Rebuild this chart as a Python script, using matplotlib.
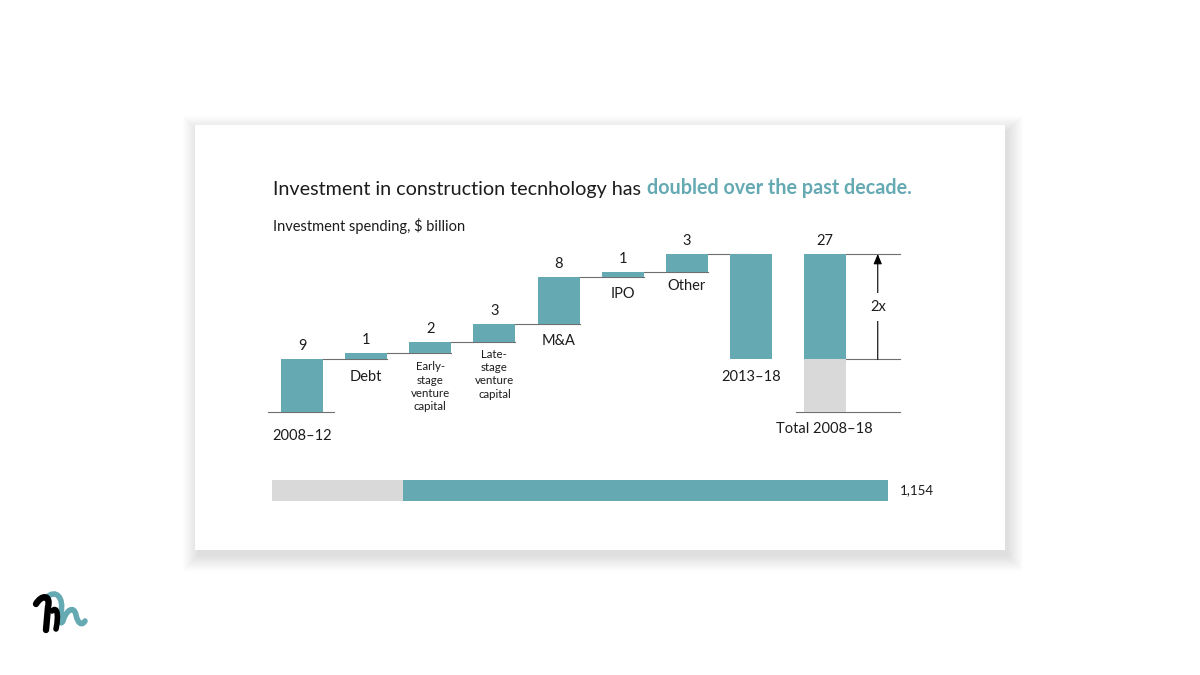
import numpy as np
import matplotlib.pyplot as plt
from matplotlib.patches import Rectangle, PathPatch
from matplotlib.path import Path

TEAL = "#65aab3"
GREY = "#dad9da"
LINE = "#6e6e6e"
INK = "#1c1c1c"

plt.rcParams['font.family'] = ['Lato', 'DejaVu Sans']

# --- data ---
categories = ["2008–12", "Debt", "Early-\nstage\nventure\ncapital",
              "Late-\nstage\nventure\ncapital", "M&A", "IPO", "Other",
              "2013–18", "Total 2008–18"]
start_value = 9
increments = [1, 2, 3, 8, 1, 3]
total_value = 27
multiple_label = "2x"
reach_values = [245, 909]   # grey part, teal part of the bottom bar
reach_label = "1,154"

# --- layout (pixels of a 1200x675 canvas) ---
PX = 64.14            # pixels per category step
PY = 5.852            # pixels per $ billion
X0, Y0 = 302, 412     # pixel position of first bar centre / zero line
positions = [0, 1, 2, 3, 4, 5, 6, 7, 8.15]
width = 42 / PX
label_gap = [17, 11, 8, 7, 10, 10, 7, 11, 10]
small = [False, False, True, True, False, False, False, False, False]

fig = plt.figure(figsize=(12, 6.75), dpi=100)
fig.patch.set_facecolor("white")

# background: card with soft shadow + logo
bg = fig.add_axes([0, 0, 1, 1])
bg.set_xlim(0, 1200)
bg.set_ylim(675, 0)
bg.axis("off")
for i in range(16):
    bg.add_patch(Rectangle((195 + 3 - i, 125 + 6 - i), 810 + 2 * i, 425 + 2 * i,
                           facecolor="black", alpha=0.009, lw=0, zorder=1))
bg.add_patch(Rectangle((195, 125), 810, 425, facecolor="white", lw=0, zorder=2))

def stroke(points, codes, color, lw):
    bg.add_patch(PathPatch(Path(points, codes), facecolor="none", edgecolor=color,
                           lw=lw, capstyle="round", joinstyle="round", zorder=3))

C = Path.CURVE4
stroke([(46, 598), (56, 588), (64, 598), (61, 612), (59, 620), (60, 626), (63, 621),
        (66, 610), (74, 605), (76, 615), (78, 624), (82, 626), (85, 621)],
       [Path.MOVETO, C, C, C, C, C, C, C, C, C, C, C, C], TEAL, 4.0)
stroke([(36, 604), (42, 594), (51, 595), (48, 607), (46, 630)],
       [Path.MOVETO, C, C, C, Path.LINETO], "black", 4.6)
stroke([(52, 611), (57, 606), (59, 614), (56, 629)],
       [Path.MOVETO, C, C, C], "black", 4.0)

# titles
t1 = bg.text(273, 195, "Investment in construction tecnhology has", fontsize=14.2,
             color=INK, va="baseline", zorder=5)
bg.annotate("doubled over the past decade.", xy=(1, 0), xycoords=t1, xytext=(6, 0),
            textcoords="offset pixels", fontsize=14.2, fontweight="bold", color=TEAL,
            va="bottom", ha="left", zorder=5)
bg.text(273, 231, "Investment spending, $ billion", fontsize=10.5, color=INK,
        va="baseline", zorder=5)

# waterfall axes mapped onto the canvas
ax = fig.add_axes([0, 0, 1, 1])
ax.patch.set_alpha(0)
ax.set_xlim(-X0 / PX, (1200 - X0) / PX)
ax.set_ylim(-(675 - Y0) / PY, Y0 / PY)
ax.axis("off")

bottoms, heights = [0], [start_value]
running = start_value
for inc in increments:
    bottoms.append(running)
    heights.append(inc)
    running += inc
bottoms.append(start_value)
heights.append(running - start_value)
tops = [b + h for b, h in zip(bottoms, heights)]

line_kw = dict(color=LINE, lw=0.8, zorder=2)
# zero line under the first bar
ax.plot([positions[0] - width / 2 - 13 / PX, positions[0] + width / 2 + 11 / PX], [0, 0], **line_kw)
# connectors running from the previous bar to the right edge of the next
for i in range(1, 7):
    ax.plot([positions[i - 1] + width / 2, positions[i] + width / 2], [bottoms[i], bottoms[i]], **line_kw)
# the 2013-18 bar hangs from the running total
ax.plot([positions[6] + width / 2, positions[7]], [tops[7], tops[7]], **line_kw)

ax.bar(positions[:8], heights, bottom=bottoms, width=width, color=TEAL, zorder=3)
ax.bar(positions[8], start_value, width=width, color=GREY, zorder=3)
ax.bar(positions[8], total_value - start_value, bottom=start_value, width=width, color=TEAL, zorder=3)

right = positions[8] + width / 2
ax.plot([right, right + 54 / PX], [total_value, total_value], **line_kw)
ax.plot([right, right + 54 / PX], [start_value, start_value], **line_kw)
ax.plot([positions[8] - width / 2 - 8 / PX, right + 54 / PX], [0, 0], **line_kw)

# multiple arrow
ax_x = right + 32 / PX
ax.annotate("", xy=(ax_x, total_value), xytext=(ax_x, start_value),
            arrowprops=dict(arrowstyle="-|>,head_length=0.6,head_width=0.25", color="black",
                            lw=0.8, shrinkA=0, shrinkB=0), zorder=4)
ax.text(ax_x, (total_value + start_value) / 2, multiple_label, ha="center", va="center",
        fontsize=10.5, color=INK, zorder=5,
        bbox=dict(facecolor="white", edgecolor="none", pad=5))

# value labels
values = [start_value] + increments
for i, v in enumerate(values):
    ax.annotate(str(v), xy=(positions[i], tops[i]), xytext=(0, 6), textcoords="offset pixels",
                ha="center", va="bottom", fontsize=10.5, color=INK)
ax.annotate(str(total_value), xy=(positions[8], total_value), xytext=(0, 6),
            textcoords="offset pixels", ha="center", va="bottom", fontsize=10.5, color=INK)

# category labels
low = bottoms[:8] + [0]
for i, name in enumerate(categories):
    ax.annotate(name, xy=(positions[i], low[i]), xytext=(0, -label_gap[i]),
                textcoords="offset pixels", ha="center", va="top",
                fontsize=8.3 if small[i] else 10.5, linespacing=1.25 if small[i] else 1.2,
                color=INK)

# bottom reach bar
bx = fig.add_axes([272 / 1200, (675 - 501) / 675, 616 / 1200, 21 / 675])
bx.patch.set_alpha(0)
bx.barh(0, reach_values[0], height=1, color=GREY)
bx.barh(0, reach_values[1], left=reach_values[0], height=1, color=TEAL)
bx.set_xlim(0, sum(reach_values))
bx.set_ylim(-0.5, 0.5)
bx.axis("off")
bx.annotate(reach_label, xy=(sum(reach_values), 0), xytext=(12, 0), textcoords="offset pixels",
            ha="left", va="center", fontsize=9.5, color=INK, annotation_clip=False)

fig.savefig("out.png", dpi=100, facecolor="white")
